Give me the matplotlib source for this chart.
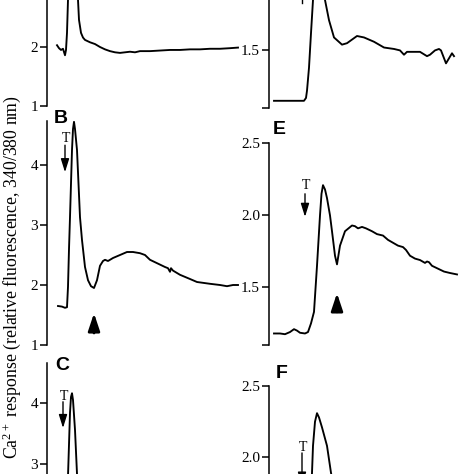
import numpy as np
import matplotlib
matplotlib.use('Agg')
import matplotlib.pyplot as plt

plt.rcParams['font.family'] = ['Liberation Serif', 'DejaVu Serif']
plt.rcParams['mathtext.default'] = 'regular'

# time (s, arbitrary from trace start) and Ca2+ ratio values
a_t = [10, 12, 14, 16, 18, 19, 20, 21, 22, 24, 26, 28, 30, 31, 32, 34, 36, 38, 43, 48,
       53, 58, 63, 68, 73, 78, 83, 88, 93, 103, 113, 123, 133, 143, 153, 163, 173, 183, 191]
a_v = [2.03, 1.98, 1.95, 1.97, 1.86, 1.95, 2.24, 2.8, 3.4, 4.2, 4.6, 4.3, 3.3, 2.8, 2.46, 2.24, 2.16, 2.12, 2.08, 2.05,
       2.0, 1.96, 1.93, 1.91, 1.9, 1.91, 1.92, 1.91, 1.93, 1.93, 1.94, 1.95, 1.95, 1.96, 1.96, 1.97, 1.97, 1.98, 1.99]

b_t = [11, 15, 18, 20, 21, 22, 23, 25, 26, 27, 28, 30, 33, 35, 38, 41, 44, 47, 50, 53, 56, 58,
       61, 66, 73, 80, 86, 93, 98, 103, 108, 113, 118, 121, 123, 124, 126, 133, 143, 150, 163, 173,
       180, 186, 191]
b_v = [1.65, 1.64, 1.62, 1.63, 1.97, 2.6, 3.13, 4.25, 4.6, 4.72, 4.6, 4.25, 3.13, 2.75, 2.3, 2.08, 1.98, 1.95, 2.08, 2.32, 2.4, 2.42,
       2.4, 2.45, 2.5, 2.55, 2.55, 2.53, 2.5, 2.42, 2.38, 2.34, 2.3, 2.28, 2.22, 2.28, 2.24, 2.17, 2.1, 2.05, 2.02, 2.0,
       1.98, 2.0, 2.0]

c_t = [11, 15, 19, 20, 21, 23, 24, 25, 26, 28, 30, 32, 35, 39, 43, 48, 53, 63, 83, 113, 143, 183, 191]
c_v = [1.7, 1.68, 1.7, 2.0, 2.8, 3.84, 4.1, 4.16, 4.05, 3.56, 2.84, 2.4, 2.0, 1.9, 2.1, 2.2, 2.25, 2.3, 2.3, 2.2, 2.1, 2.05, 2.05]

d_t = [5, 16, 26, 35, 37, 38, 39, 40, 41, 42, 44, 47, 50, 53, 56, 60, 65, 73, 78, 88,
       95, 105, 115, 125, 131, 135, 138, 151, 158, 161, 166, 170, 172, 177, 183, 185]
d_v = [1.15, 1.15, 1.15, 1.15, 1.17, 1.22, 1.3, 1.38, 1.5, 1.62, 1.85, 2.2, 2.3, 2.1, 1.85, 1.71, 1.59, 1.54, 1.55, 1.6,
       1.59, 1.56, 1.52, 1.51, 1.5, 1.47, 1.49, 1.49, 1.46, 1.47, 1.5, 1.51, 1.5, 1.41, 1.48, 1.46]

e_t = [5, 11, 16, 21, 25, 28, 31, 36, 39, 42, 45, 48, 51, 52.5, 54, 56, 58, 61, 63, 66,
       68, 71, 76, 83, 86, 89, 93, 97, 103, 108, 114, 119, 124, 129, 134, 137, 141, 146, 151, 156,
       158, 160, 163, 169, 175, 181, 188]
e_v = [1.18, 1.18, 1.175, 1.19, 1.21, 1.2, 1.185, 1.18, 1.19, 1.25, 1.33, 1.65, 2.0, 2.15, 2.21, 2.18, 2.12, 2.0, 1.89, 1.72,
       1.66, 1.79, 1.89, 1.93, 1.925, 1.91, 1.92, 1.91, 1.89, 1.87, 1.86, 1.83, 1.81, 1.79, 1.78, 1.76, 1.72, 1.7, 1.69, 1.67,
       1.68, 1.675, 1.65, 1.63, 1.61, 1.6, 1.59]

f_t = [5, 21, 36, 40, 42, 43, 44, 46, 48, 50, 53, 58, 62, 66, 71, 81, 101, 131, 161, 186]
f_v = [1.2, 1.2, 1.2, 1.4, 1.75, 1.89, 2.08, 2.25, 2.31, 2.28, 2.21, 2.08, 1.89, 1.75, 1.68, 1.7, 1.72, 1.7, 1.68, 1.66]

# only the ticks that fall inside the cropped picture
a_ticks, a_labels = [1, 2], ['1', '2']
b_ticks, b_labels = [1, 2, 3, 4], ['1', '2', '3', '4']
c_ticks, c_labels = [3, 4], ['3', '4']
d_ticks, d_labels = [1.1, 1.5], ['', '1.5']
e_ticks, e_labels = [1.1, 1.5, 2.0, 2.5], ['', '1.5', '2.0', '2.5']
f_ticks, f_labels = [2.0, 2.5], ['2.0', '2.5']

W = H = 474.0
fig = plt.figure(figsize=(4.74, 4.74), dpi=100)
fig.patch.set_facecolor('white')


def panel(x0, bottom_px, ppu, ylim, ticks, labels):
    # place axes in pixel terms (image y counted from top)
    h = (ylim[1] - ylim[0]) * ppu
    ax = fig.add_axes([x0 / W, (H - bottom_px) / H, 200 / W, h / H])
    ax.set_xlim(0, 200)
    ax.set_ylim(*ylim)
    for s in ['top', 'right', 'bottom']:
        ax.spines[s].set_visible(False)
    ax.spines['left'].set_linewidth(1.1)
    ax.set_xticks([])
    ax.set_yticks(ticks)
    ax.set_yticklabels(labels)
    ax.tick_params(axis='y', direction='out', length=5, width=1.1, labelsize=11, pad=1.5)
    ax.patch.set_alpha(0)
    return ax


def t_arrow(ax, t, v_text, v0, v1):
    ax.text(t + 1, v_text, 'T', ha='center', va='center', fontsize=10)
    ax.annotate('', xy=(t, v1), xytext=(t, v0),
                arrowprops=dict(arrowstyle='-|>,head_length=0.8,head_width=0.25', lw=1.0,
                                color='k', mutation_scale=10, shrinkA=0, shrinkB=0))


def up_arrow(ax, t, v0, v1):
    ax.annotate('', xy=(t, v1), xytext=(t, v0),
                arrowprops=dict(arrowstyle='-|>,head_length=0.75,head_width=0.25', lw=2.0,
                                color='k', mutation_scale=14, shrinkA=0, shrinkB=0))


lw = 1.35
ax_a = panel(47, 106, 59, (1, 4.73), a_ticks, a_labels)
ax_a.plot(a_t, a_v, color='k', lw=lw)

ax_b = panel(47, 345, 60, (1, 4.73), b_ticks, b_labels)
ax_b.plot(b_t, b_v, color='k', lw=lw)
t_arrow(ax_b, 18, 4.45, 4.33, 3.88)
up_arrow(ax_b, 47, 1.2, 1.53)

ax_c = panel(47, 586, 61, (1, 4.66), c_ticks, c_labels)
ax_c.plot(c_t, c_v, color='k', lw=lw)
t_arrow(ax_c, 16, 4.11, 4.02, 3.59)

ax_d = panel(269, 108, 144, (1.1, 2.5), d_ticks, d_labels)
ax_d.plot(d_t, d_v, color='k', lw=lw)
ax_d.plot([33, 33], [1.83, 2.2], color='k', lw=1.0)

ax_e = panel(269, 345, 144, (1.1, 2.5), e_ticks, e_labels)
ax_e.plot(e_t, e_v, color='k', lw=lw)
t_arrow(ax_e, 36, 2.21, 2.15, 1.99)
up_arrow(ax_e, 68, 1.33, 1.46)

ax_f = panel(269, 585, 142, (1.1, 2.5), f_ticks, f_labels)
ax_f.plot(f_t, f_v, color='k', lw=lw)
t_arrow(ax_f, 33, 2.07, 2.03, 1.8)

# panel letters
for lab, x, y in [('B', 61, 118), ('C', 62, 365), ('E', 279, 129), ('F', 282, 374)]:
    fig.text(x / W, 1 - y / H, lab, ha='center', va='center', fontsize=14,
             fontweight='bold', family=['Liberation Sans', 'DejaVu Sans'])

fig.text(12 / W, 1 - 277 / H, 'Ca$^{2+}$ response (relative fluorescence, 340/380 nm)',
         rotation=90, ha='center', va='center', fontsize=12.8)

fig.savefig('out.png', dpi=100, facecolor='white')
